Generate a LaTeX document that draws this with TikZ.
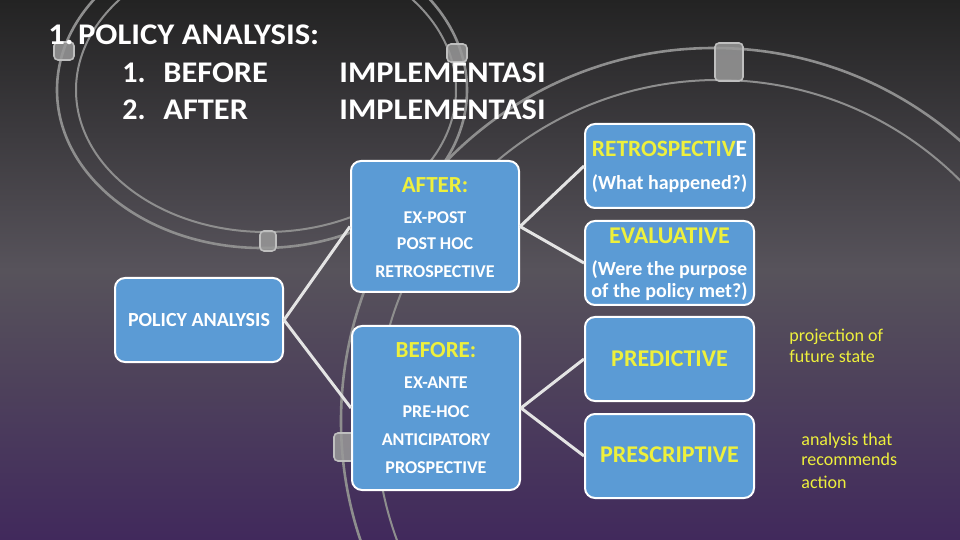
\documentclass[tikz,border=0pt]{standalone}
\usepackage{fontspec}
\setmainfont{Carlito}
\definecolor{boxblue}{HTML}{5B9BD5}
\definecolor{txtyellow}{HTML}{EEF03C}
\definecolor{arcgrey}{HTML}{8E8E8E}
\definecolor{linkgrey}{HTML}{E4E4E4}
\definecolor{bgtop}{HTML}{232323}
\definecolor{bgmid}{HTML}{57535B}
\definecolor{bgbot}{HTML}{41295C}
\begin{document}
\begin{tikzpicture}[x=0.5pt,y=-0.5pt,
  pbox/.style={draw=white,line width=1pt,fill=boxblue,rounded corners=5pt,inner sep=0pt,minimum width=84pt,minimum height=42pt},
  btxt/.style={text=white,font=\bfseries\fontsize{9}{10}\selectfont,inner sep=0pt},
  bhead/.style={text=txtyellow,font=\bfseries\fontsize{11.5}{13}\selectfont,inner sep=0pt},
  rhead/.style={text=txtyellow,font=\bfseries\fontsize{12}{14}\selectfont,inner sep=0pt},
  rtxt/.style={text=white,font=\bfseries\fontsize{10}{12}\selectfont,inner sep=0pt},
  note/.style={text=txtyellow,font=\fontsize{9}{11}\selectfont,inner sep=0pt,anchor=base west},
  title/.style={text=white,font=\bfseries\fontsize{15}{18}\selectfont,inner sep=0pt,anchor=base west},
  link/.style={draw=linkgrey,line width=1.5pt},
  arcout/.style={draw=arcgrey,line width=1.3pt},
  arcin/.style={draw=arcgrey,line width=1pt},
  marker/.style={draw=gray!50!white,fill=gray!80!white,fill opacity=0.85,line width=0.8pt,rounded corners=2pt}]
% background
\shade[top color=bgtop,bottom color=bgbot,middle color=bgmid] (0,0) rectangle (960,540);
\begin{scope}
\clip (0,0) rectangle (960,540);
% decorative circles
\draw[arcout] (262,90) ellipse[x radius=102.5pt,y radius=79pt];
\draw[arcin] (266,90) ellipse[x radius=95pt,y radius=71pt];
\draw[arcout] (714,421) circle[radius=186.5pt];
\draw[arcin] (718,422) circle[radius=171pt];
% markers
\draw[marker] (54,42) rectangle (74,60);
\draw[marker] (447,44) rectangle (467,62);
\draw[marker] (260,231) rectangle (276,251);
\draw[marker] (715,43) rectangle (743,81);
\draw[marker] (334,433) rectangle (360,461);
\end{scope}
% title
\node[title] (t1) at (48,45) {\scalebox{1.09}[1]{1.\kern-2.5pt{} POLICY ANALYSIS:}};
\node[title] (t2n) at (122,83) {1.};
\node[title] (t2a) at (163,83) {\scalebox{1.08}[1]{BEFORE}};
\node[title] (t2b) at (339,83) {\scalebox{1.08}[1]{IMPLEMENTASI}};
\node[title] (t3n) at (122,120) {2.};
\node[title] (t3a) at (163,120) {\scalebox{1.08}[1]{AFTER}};
\node[title] (t3b) at (339,120) {\scalebox{1.08}[1]{IMPLEMENTASI}};
% boxes
\node[pbox] (policy) at (199,320) {};
\node[pbox,minimum height=65.5pt] (after) at (435,226.5) {};
\node[pbox,minimum height=82pt] (before) at (436,408) {};
\node[pbox,minimum width=84.5pt] (retro) at (669.5,166) {};
\node[pbox,minimum width=84.5pt] (eval) at (669.5,263) {};
\node[pbox,minimum width=84.5pt] (pred) at (669.5,359) {};
\node[pbox,minimum width=84.5pt] (presc) at (669.5,456) {};
% connectors
\draw[link] (policy.east) -- (after.west);
\draw[link] (policy.east) -- (before.west);
\draw[link] (after.east) -- (retro.west);
\draw[link] (after.east) -- (eval.west);
\draw[link] (before.east) -- (pred.west);
\draw[link] (before.east) -- (presc.west);
% box texts
\node[btxt,font=\bfseries\fontsize{10}{12}\selectfont] (policyt) at (199,320) {POLICY ANALYSIS};
\node[bhead] (aftert) at (435,185) {AFTER:};
\node[btxt] (aftera) at (435,218) {EX-POST};
\node[btxt] (afterb) at (435,244) {POST HOC};
\node[btxt] (afterc) at (435,272) {RETROSPECTIVE};
\node[bhead] (beforet) at (436,350) {BEFORE:};
\node[btxt] (beforea) at (436,383) {EX-ANTE};
\node[btxt] (beforeb) at (436,412) {PRE-HOC};
\node[btxt] (beforec) at (436,440) {ANTICIPATORY};
\node[btxt] (befored) at (436,468) {PROSPECTIVE};
\node[rhead,font=\bfseries\fontsize{11.7}{14}\selectfont] (retrot) at (669.5,149) {RETROSPECTIV\textcolor{white}{E}};
\node[rtxt] (retroa) at (669.5,184) {(What happened?)};
\node[rhead] (evalt) at (669.5,236) {EVALUATIVE};
\node[rtxt] (evala) at (669.5,270) {(Were the purpose};
\node[rtxt] (evalb) at (669.5,292) {of the policy met?)};
\node[rhead] (predt) at (669.5,359) {PREDICTIVE};
\node[rhead] (presct) at (669.5,455) {PRESCRIPTIVE};
% notes
\node[note] (n1) at (789,342) {projection of};
\node[note] (n2) at (789,363) {future state};
\node[note] (n3) at (801,445) {analysis that};
\node[note] (n4) at (801,466) {recommends};
\node[note] (n5) at (801,488) {action};
\end{tikzpicture}
\end{document}
